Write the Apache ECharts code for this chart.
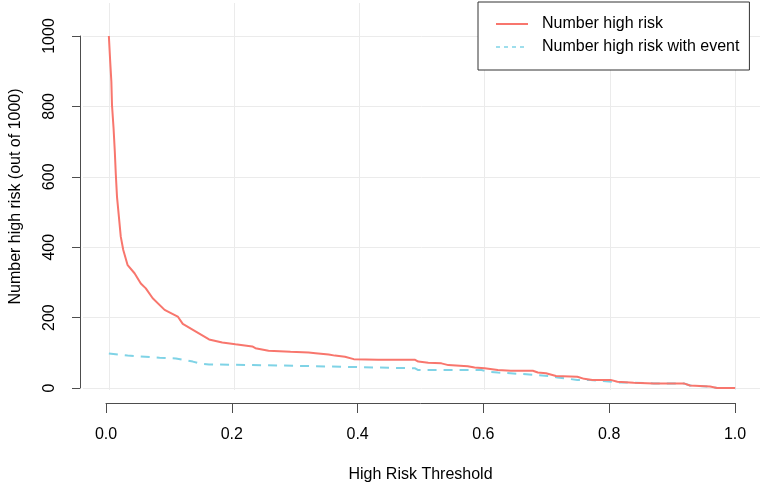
<!DOCTYPE html>
<html>
<head>
<meta charset="utf-8">
<script src="https://cdn.jsdelivr.net/npm/echarts@6/dist/echarts.min.js"></script>
<style>
html,body{margin:0;padding:0;background:#fff;}
#chart{width:762px;height:488px;}
</style>
</head>
<body>
<div id="chart"></div>
<script>
// ---- data ----
const riskX = [0,0.002,0.004,0.005,0.0075,0.0095,0.011,0.013,0.016,0.019,0.023,0.030,0.041,0.051,0.059,0.070,0.089,0.110,0.118,0.139,0.160,0.181,0.202,0.229,0.234,0.255,0.290,0.319,0.330,0.351,0.361,0.377,0.391,0.430,0.489,0.494,0.510,0.531,0.542,0.573,0.584,0.600,0.621,0.642,0.677,0.685,0.698,0.714,0.748,0.759,0.772,0.801,0.812,0.838,0.870,0.918,0.928,0.960,0.971,1.0];
const riskY = [1000,932,870,804,738,671,610,543,487,430,392,349,326,297,283,255,222,203,182,160,138,129,124,118,113,106,103,101,99,95,92,89,82,80,80,75,72,70,65,62,58,56,51,49,49,44,42,34,32,26,23,23,18,15,13,13,7,4,0,0];
const eventX = [0,0.030,0.081,0.107,0.118,0.134,0.144,0.160,0.229,0.300,0.377,0.380,0.489,0.494,0.595,0.605,0.621,0.658,0.679,0.701,0.716,0.748,0.769,0.812,0.838,0.870,0.918,0.928,0.960,0.971,1.0];
const eventY = [98,92,86,84,80,75,70,67,65,63,60,56,56,51,51,46,44,40,37,34,30,23,23,16,15,13,13,7,4,0,0];
const xTicks = [0,0.2,0.4,0.6,0.8,1.0];
const yTicks = [0,200,400,600,800,1000];
const seriesNames = ['Number high risk','Number high risk with event'];

const pairs = (xs, ys) => xs.map((x, i) => [x, ys[i]]);
const RED = '#F8766D', BLUE = '#7FD3E6', GRIDC = '#ebebeb', AXC = '#4d4d4d';
const FONT = 'Liberation Sans, Arial, sans-serif';
const FS = 16;

const chart = echarts.init(document.getElementById('chart'), null, {renderer: 'canvas'});
chart.setOption({
  animation: false,
  backgroundColor: '#ffffff',
  textStyle: {fontFamily: FONT},
  grid: [
    {left: 80, right: 2, top: 3, bottom: 98},   // plot region
    {left: 106, right: 27, top: 300, bottom: 85}, // x axis
    {left: 80, right: 2, top: 36, bottom: 100}   // y axis
  ],
  xAxis: [
    {gridIndex: 0, type: 'value', min: -0.0413, max: 1.0397, show: false},
    {gridIndex: 1, type: 'value', min: 0, max: 1, interval: 0.2,
     axisLine: {show: true, lineStyle: {color: AXC, width: 1}},
     axisTick: {show: true, length: 10, lineStyle: {color: AXC}},
     axisLabel: {color: '#000', fontSize: FS, margin: 24, fontFamily: FONT,
                 formatter: v => v.toFixed(1)},
     splitLine: {show: false},
     name: 'High Risk Threshold', nameLocation: 'middle', nameGap: 64,
     nameTextStyle: {color: '#000', fontSize: FS, fontFamily: FONT}},
    {gridIndex: 2, type: 'value', min: 0, max: 1, show: false}
  ],
  yAxis: [
    {gridIndex: 0, type: 'value', min: -5.7, max: 1093.8, show: true,
     axisLine: {show: false}, axisTick: {show: false}, axisLabel: {show: false},
     splitLine: {show: false},
     name: 'Number high risk (out of 1000)', nameLocation: 'middle', nameGap: 59,
     nameTextStyle: {color: '#000', fontSize: FS, fontFamily: FONT}},
    {gridIndex: 1, type: 'value', min: 0, max: 1, show: false},
    {gridIndex: 2, type: 'value', min: 0, max: 1000, interval: 200,
     axisLine: {show: true, lineStyle: {color: AXC, width: 1}},
     axisTick: {show: true, length: 8, lineStyle: {color: AXC}},
     axisLabel: {color: '#000', fontSize: FS, margin: 22, rotate: 90, fontFamily: FONT,
                 formatter: v => String(v)},
     splitLine: {show: false}}
  ],
  legend: {
    data: [
      {name: seriesNames[0], lineStyle: {color: RED, width: 2, type: 'solid'}},
      {name: seriesNames[1], lineStyle: {color: BLUE, width: 1.5, type: [4, 4]}}
    ],
    orient: 'vertical',
    left: 478, top: 2,
    padding: [14, 10, 15, 17],
    itemWidth: 32, itemHeight: 14, itemGap: 7,
    borderColor: '#333', borderWidth: 1,
    backgroundColor: '#fff',
    itemStyle: {color: 'transparent', borderColor: 'transparent', borderWidth: 0, opacity: 0},
    textStyle: {color: '#000', fontSize: FS, fontFamily: FONT, padding: [0, 0, 0, 9]}
  },
  series: [
    {
      name: 'grid', type: 'line', xAxisIndex: 0, yAxisIndex: 0, data: [], z: 0, silent: true,
      markLine: {
        silent: true, symbol: 'none', label: {show: false}, animation: false, z: 0,
        lineStyle: {color: GRIDC, width: 1, type: 'solid'},
        data: xTicks.map(v => ({xAxis: v})).concat(yTicks.map(v => ({yAxis: v})))
      }
    },
    {
      name: seriesNames[0], type: 'line', xAxisIndex: 0, yAxisIndex: 0,
      data: pairs(riskX, riskY), showSymbol: false, symbol: 'none', z: 3,
      lineStyle: {color: RED, width: 2}, itemStyle: {color: RED}
    },
    {
      name: seriesNames[1], type: 'line', xAxisIndex: 0, yAxisIndex: 0,
      data: pairs(eventX, eventY), showSymbol: false, symbol: 'none', z: 2,
      lineStyle: {color: BLUE, width: 2, type: [9, 7]}, itemStyle: {color: BLUE}
    }
  ]
});
</script>
</body>
</html>
